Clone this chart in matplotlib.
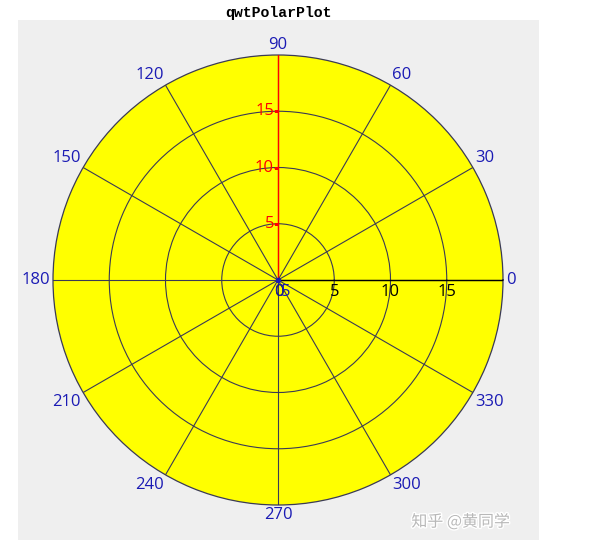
import numpy as np
import matplotlib
matplotlib.use("Agg")
import matplotlib.pyplot as plt
from matplotlib.patches import Rectangle
from matplotlib.transforms import offset_copy
import matplotlib.patheffects as pe

# ---- data ----
title = "qwtPolarPlot"
angle_ticks = [0, 30, 60, 90, 120, 150, 180, 210, 240, 270, 300, 330]
radial_ticks = [5, 10, 15]
r_max = 20
watermark = "知乎 @黄同学"

W, H = 600, 548
fig = plt.figure(figsize=(W / 100, H / 100), dpi=100)
fig.patch.set_facecolor("white")

# gray canvas
fig.add_artist(Rectangle((18 / W, (H - 540) / H), (539 - 18) / W, (540 - 20) / H,
                         transform=fig.transFigure, facecolor="#efefef",
                         edgecolor="none", zorder=0))

cx, cy, R = 278, 280, 225
ax = fig.add_axes([(cx - R) / W, (H - cy - R) / H, 2 * R / W, 2 * R / H],
                  projection="polar")
ax.set_facecolor("#ffff00")
ax.set_ylim(0, r_max)
ax.set_rticks(radial_ticks)
ax.set_yticklabels([])
ax.set_thetagrids(angle_ticks, labels=[])
ax.grid(True, color="#3a3a55", linewidth=0.8)
ax.spines["polar"].set_color("#3a3a55")
ax.spines["polar"].set_linewidth(0.9)
ax.tick_params(axis="both", length=0, pad=0)

font = "Open Sans"
blue = "#1a1ab4"

# angular labels just outside the circle
for a in angle_ticks:
    t = np.deg2rad(a)
    c, s = np.cos(t), np.sin(t)
    ha = "left" if c > 0.01 else ("right" if c < -0.01 else "center")
    va = "bottom" if s > 0.01 else ("top" if s < -0.01 else "center")
    tr = offset_copy(ax.transData, fig=fig, x=3 * c, y=2 * s, units="dots")
    ax.text(t, r_max, str(a), transform=tr, ha=ha, va=va, color=blue,
            fontsize=12, family=font, clip_on=False)

# red radial axis at 90 degrees
ax.plot([np.pi / 2, np.pi / 2], [0, r_max], color="red", linewidth=1.0, zorder=3)
ax.plot([np.pi / 2] * len(radial_ticks), radial_ticks, ls="none", marker=0,
        ms=3, color="red", zorder=3)
tr_red = offset_copy(ax.transData, fig=fig, x=-4, y=0, units="dots")
for r in radial_ticks:
    ax.text(np.pi / 2, r, str(r), transform=tr_red, ha="right", va="center",
            color="red", fontsize=12, family=font)

# black radial axis at 0 degrees
ax.plot([0, 0], [0, r_max], color="black", linewidth=1.0, zorder=3)
tr_blk = offset_copy(ax.transData, fig=fig, x=0, y=-4, units="dots")
for r in radial_ticks:
    ax.text(0, r, str(r), transform=tr_blk, ha="center", va="top",
            color="black", fontsize=12, family=font)

# overlapping origin labels
ax.text(0, 0, "0", transform=offset_copy(ax.transData, fig=fig, x=0.5, y=-4, units="dots"),
        ha="center", va="top", color="black", fontsize=12, family=font)
ax.text(0, 0, "0", transform=offset_copy(ax.transData, fig=fig, x=1, y=-4, units="dots"),
        ha="center", va="top", color=blue, fontsize=12, family=font)
ax.text(0, 0, "5", transform=offset_copy(ax.transData, fig=fig, x=8, y=-4, units="dots"),
        ha="center", va="top", color=blue, fontsize=12, family=font)
ax.plot([0], [0], marker="o", ms=3, color=blue, zorder=4)

# title
fig.text(278.5 / W, 1 - 12.5 / H, title, ha="center", va="center",
         family="Liberation Mono", fontweight="bold", fontsize=10.7)

# watermark
fig.text(510 / W, 1 - 522 / H, watermark, ha="right", va="center",
         family=["Noto Sans CJK SC", "DejaVu Sans"], fontsize=11.5,
         color="#b8b8b8",
         path_effects=[pe.withStroke(linewidth=2, foreground="white")])

fig.savefig("out.png", dpi=100)
